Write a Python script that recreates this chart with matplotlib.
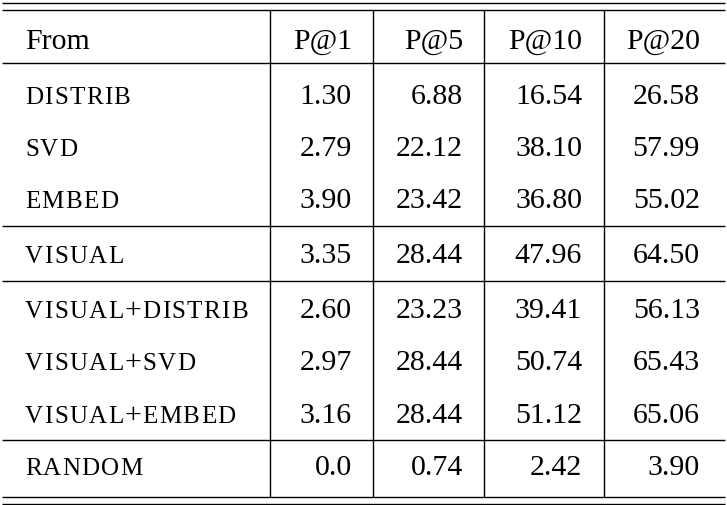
import matplotlib
matplotlib.use('Agg')
import matplotlib.pyplot as plt

# table data
methods = ['DISTRIB', 'SVD', 'EMBED', 'VISUAL', 'VISUAL+DISTRIB', 'VISUAL+SVD', 'VISUAL+EMBED', 'RANDOM']
headers = ['From', 'P@1', 'P@5', 'P@10', 'P@20']
p1 = ['1.30', '2.79', '3.90', '3.35', '2.60', '2.97', '3.16', '0.0']
p5 = ['6.88', '22.12', '23.42', '28.44', '23.23', '28.44', '28.44', '0.74']
p10 = ['16.54', '38.10', '36.80', '47.96', '39.41', '50.74', '51.12', '2.42']
p20 = ['26.58', '57.99', '55.02', '64.50', '56.13', '65.43', '65.06', '3.90']

W, H = 727, 505
fig = plt.figure(figsize=(W / 100, H / 100), dpi=100)
ax = fig.add_axes([0, 0, 1, 1])
ax.set_xlim(0, W)
ax.set_ylim(H, 0)
ax.axis('off')

font = 'Liberation Serif'
big = 21.5
small = 18
tracking = 1.3

col_lines = [270, 373, 484, 604]
right_edges = [352, 463, 582, 700]
header_base = 49
row_base = [104, 156, 208, 263, 318, 370, 423, 475]

lw = 1.0
for y in [3, 10, 63, 226, 281, 440, 497, 504]:
    ax.plot([2, 725], [y, y], color='black', lw=lw, solid_capstyle='butt')
for x in col_lines:
    ax.plot([x, x], [10, 497], color='black', lw=lw, solid_capstyle='butt')

ax.text(25, header_base, headers[0], fontsize=big, family=font, va='baseline', ha='left')
for h, xr in zip(headers[1:], right_edges):
    ax.text(xr, header_base, h, fontsize=big, family=font, va='baseline', ha='right')

renderer = fig.canvas.get_renderer()


def spaced_text(x, y, s):
    # small caps look: draw letter by letter with extra spacing
    for ch in s:
        size = big if ch == '+' else small
        t = ax.text(x, y, ch, fontsize=size, family=font, va='baseline', ha='left')
        bb = t.get_window_extent(renderer)
        x += bb.width + tracking


for i, m in enumerate(methods):
    spaced_text(25, row_base[i], m)
    for col, xr in zip([p1, p5, p10, p20], right_edges):
        ax.text(xr, row_base[i], col[i], fontsize=big, family=font, va='baseline', ha='right')

fig.savefig('out.png', dpi=100)
